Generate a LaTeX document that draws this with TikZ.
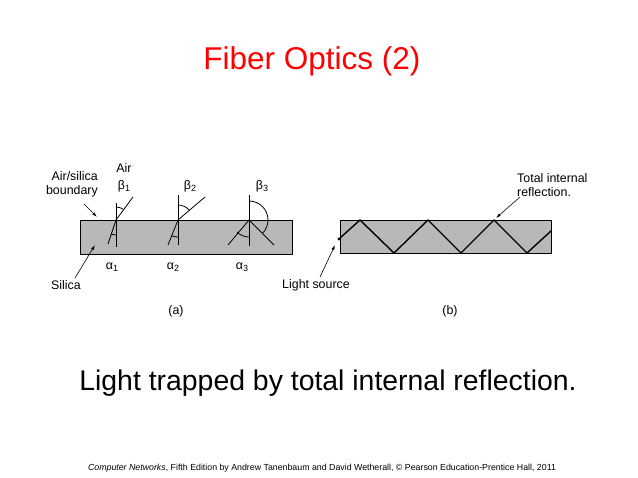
\documentclass[tikz,border=0pt]{standalone}
\usepackage{fontspec}
\setmainfont{Liberation Sans}
\usetikzlibrary{arrows.meta}
\newcommand{\gsub}[2]{#1\raisebox{-2.5pt}{\fontsize{9}{10}\selectfont #2}}
\begin{document}
\begin{tikzpicture}[x=1pt,y=-1pt,
  lbl/.style={font=\fontsize{12.4}{14}\selectfont,inner sep=0pt},
  fib/.style={draw=black,fill=black!28,line width=0.8pt},
  ray/.style={line width=0.8pt},
  zig/.style={line width=1.4pt},
  arr/.style={-{Latex[length=5pt,width=3pt]},line width=0.6pt}]
\useasboundingbox (0,0) rectangle (638,478);
\fill[white] (0,0) rectangle (638,478);
\node[text=red,font=\fontsize{31.5}{36}\selectfont] (title) at (312,61) {Fiber Optics (2)};
% left fiber
\node[fib,minimum width=212pt,minimum height=34pt,inner sep=0pt] (f1) at (186,237) {};
\coordinate (p1) at (116,220); \coordinate (p2) at (178,220); \coordinate (p3) at (249,220);
\draw[ray] (116,203) -- (116,247);
\draw[ray] (108,244) -- (p1) -- (133,197);
\draw[ray] (p1) ++(-90:13) arc[start angle=-90,end angle=-55,radius=13];
\draw[ray] (p1) ++(90:15) arc[start angle=90,end angle=108,radius=15];
\draw[ray] (178,195) -- (178,245);
\draw[ray] (168,245) -- (p2) -- (205,197);
\draw[ray] (p2) ++(-90:15) arc[start angle=-90,end angle=-40,radius=15];
\draw[ray] (p2) ++(90:17) arc[start angle=90,end angle=112,radius=17];
\draw[ray] (249,195) -- (249,246);
\draw[ray] (228,245) -- (p3) -- (274,245);
\draw[ray] (p3) ++(-90:19) arc[start angle=-90,end angle=45,radius=19];
\draw[ray] (p3) ++(90:17) arc[start angle=90,end angle=135,radius=17];
\node[lbl] (air) at (124,168) {Air};
\node[lbl] (b1) at (124,186) {\gsub{β}{1}};
\node[lbl] (b2) at (190,186) {\gsub{β}{2}};
\node[lbl] (b3) at (262,186) {\gsub{β}{3}};
\node[lbl] (a1) at (112,267) {\gsub{α}{1}};
\node[lbl] (a2) at (173,267) {\gsub{α}{2}};
\node[lbl] (a3) at (242,267) {\gsub{α}{3}};
\node[lbl,align=right,anchor=east] (bnd) at (98,184) {Air/silica\\boundary};
\coordinate (bt) at (97,217);
\draw[arr] (84,204) -- (bt);
\node[lbl] (sil) at (66,285) {Silica};
\coordinate (st) at (95,245);
\draw[arr] (75,278) -- (st);
% right fiber
\node[fib,minimum width=211pt,minimum height=33pt,inner sep=0pt] (f2) at (445.5,236.5) {};
\draw[zig,line join=miter] (340,238) -- (360,220) -- (394,253) -- (428,220) -- (461,253) -- (494,220) -- (527,253) -- (551,231);
\fill (339,239) circle (1.6pt);
\node[lbl,align=left,anchor=west] (tir) at (517,185) {Total internal\\reflection.};
\coordinate (tt) at (496,218);
\draw[arr] (520,197) -- (tt);
\node[lbl] (ls) at (316,285) {Light source};
\coordinate (lt) at (335,245);
\draw[arr] (320,277) -- (lt);
\node[lbl] (la) at (176,311) {(a)};
\node[lbl] (lb) at (450,311) {(b)};
\node[font=\fontsize{28.4}{32}\selectfont] (cap) at (328,383) {Light trapped by total internal reflection.};
\node[font=\fontsize{8.8}{10}\selectfont] (foot) at (322,468) {\textit{Computer Networks}, Fifth Edition by Andrew Tanenbaum and David Wetherall, © Pearson Education-Prentice Hall, 2011};
\end{tikzpicture}
\end{document}
